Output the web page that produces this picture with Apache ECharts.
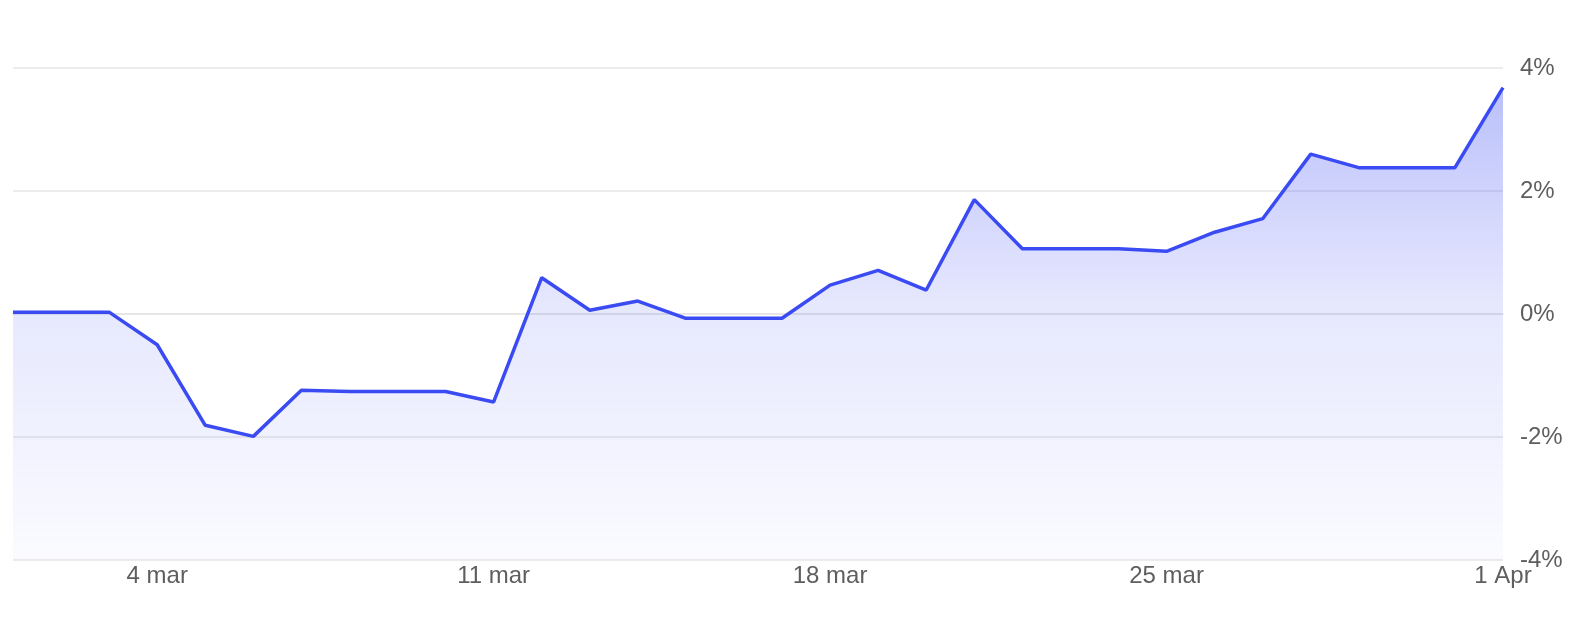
<!DOCTYPE html>
<html>
<head>
<meta charset="utf-8">
<script src="https://cdn.jsdelivr.net/npm/echarts@6/dist/echarts.min.js"></script>
<style>
  html, body { margin: 0; padding: 0; background: #fff; }
  #main { width: 1579px; height: 619px; }
</style>
</head>
<body>
<div id="main"></div>
<script>
var days = ['1 mar', '2 mar', '3 mar', '4 mar', '5 mar', '6 mar', '7 mar', '8 mar', '9 mar', '10 mar',
  '11 mar', '12 mar', '13 mar', '14 mar', '15 mar', '16 mar', '17 mar', '18 mar', '19 mar', '20 mar',
  '21 mar', '22 mar', '23 mar', '24 mar', '25 mar', '26 mar', '27 mar', '28 mar', '29 mar', '30 mar',
  '31 mar', '1 Apr'];
var change = [0.03, 0.03, 0.03, -0.50, -1.81, -1.99, -1.24, -1.26, -1.26, -1.26,
  -1.43, 0.59, 0.06, 0.21, -0.07, -0.07, -0.07, 0.47, 0.71, 0.39,
  1.86, 1.06, 1.06, 1.06, 1.02, 1.33, 1.55, 2.60, 2.38, 2.38,
  2.38, 3.68];
// labelled days on the x axis
var labelDays = ['4 mar', '11 mar', '18 mar', '25 mar', '1 Apr'];
var yMin = -4, yMax = 4, yStep = 2;

var chartDom = document.getElementById('main');
var myChart = echarts.init(chartDom);
var option;

option = {
  animation: false,
  textStyle: { fontFamily: 'Liberation Sans' },
  grid: {
    top: 68,
    left: 13,
    right: 76,
    bottom: 59
  },
  xAxis: {
    type: 'category',
    data: days,
    boundaryGap: false,
    axisLine: { show: true, lineStyle: { color: '#e4e4e4', width: 1.5 } },
    axisTick: { show: false },
    axisLabel: {
      interval: function (i, name) { return labelDays.indexOf(name) >= 0; },
      color: '#5e5e5e',
      fontSize: 24,
      margin: 4
    },
    splitLine: { show: false }
  },
  yAxis: {
    type: 'value',
    position: 'right',
    min: yMin,
    max: yMax,
    interval: yStep,
    axisLine: { show: false },
    axisTick: { show: false },
    axisLabel: {
      formatter: '{value}%',
      color: '#5e5e5e',
      fontSize: 24,
      margin: 17
    },
    splitLine: { lineStyle: { color: '#e6e6e4', width: 1.5 } }
  },
  series: [
    {
      type: 'line',
      data: change,
      showSymbol: false,
      lineStyle: { color: '#3b4bf3', width: 3.5 },
      areaStyle: {
        origin: 'start',
        color: new echarts.graphic.LinearGradient(0, 0, 0, 1, [
          { offset: 0, color: 'rgba(59,75,243,0.5)' },
          { offset: 0.45, color: 'rgba(59,75,243,0.19)' },
          { offset: 1, color: 'rgba(59,75,243,0.03)' }
        ])
      }
    }
  ]
};

myChart.setOption(option);
</script>
</body>
</html>
